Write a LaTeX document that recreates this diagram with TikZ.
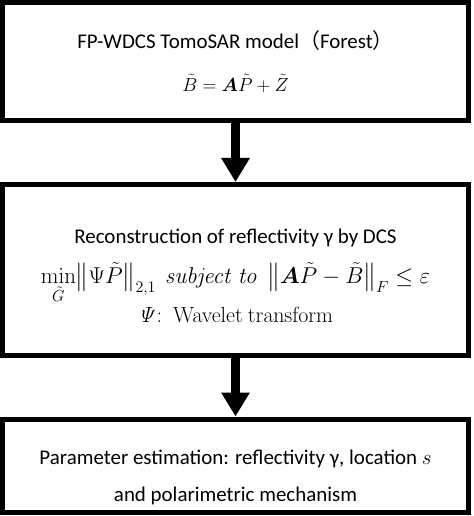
\RequirePackage{fix-cm}
\documentclass[tikz,border=0pt]{standalone}
\usepackage{amsmath, amssymb, bm}
\usepackage[no-math]{fontspec}
\setmainfont{Carlito}
\newfontfamily\cjk{Noto Sans CJK SC}
\usetikzlibrary{arrows.meta}

\begin{document}
\begin{tikzpicture}[x=1bp, y=-1bp,
        box/.style={draw, line width=5bp, minimum width=466bp, align=center,
            inner sep=0pt, font=\fontsize{21}{41}\selectfont},
        flowarrow/.style={line width=9bp, -{Triangle[width=27bp, length=24bp]}}]
        \useasboundingbox (0,0) rectangle (474,516);

        \node[box, minimum height=118bp] (model) at (235.5,61.5)
            {FP-WDCS TomoSAR model{\cjk（}Forest{\cjk）}\\[2bp]
             {\fontsize{19}{41}\selectfont$\tilde{B}=\bm{A}\tilde{P}+\tilde{Z}$}};
        \node[box, minimum height=170.5bp] (recon) at (235.5,269.75)
            {\rule{0pt}{26bp}Reconstruction of reflectivity γ by DCS\\[-1bp]
             {\fontsize{23}{41}\selectfont$\min\limits_{\tilde{G}}\!\left\|\Psi\tilde{P}\right\|_{2,1}\ \mathit{subject\ to}\ \left\|\bm{A}\tilde{P}-\tilde{B}\right\|_{F}\le\varepsilon$}\\[-2bp]
             {\fontsize{22}{41}\selectfont$\mathit{\Psi}\mathrm{:\ Wavelet\ transform}$}};
        \node[box, minimum height=93.5bp] (param) at (235.5,465.75)
            {\rule{0pt}{38bp}Parameter estimation: reflectivity γ, location $s$\\[-3bp]
             and polarimetric mechanism};

        \draw[flowarrow] (model) -- (recon);
        \draw[flowarrow] (recon) -- (param);
    \end{tikzpicture}
\end{document}
